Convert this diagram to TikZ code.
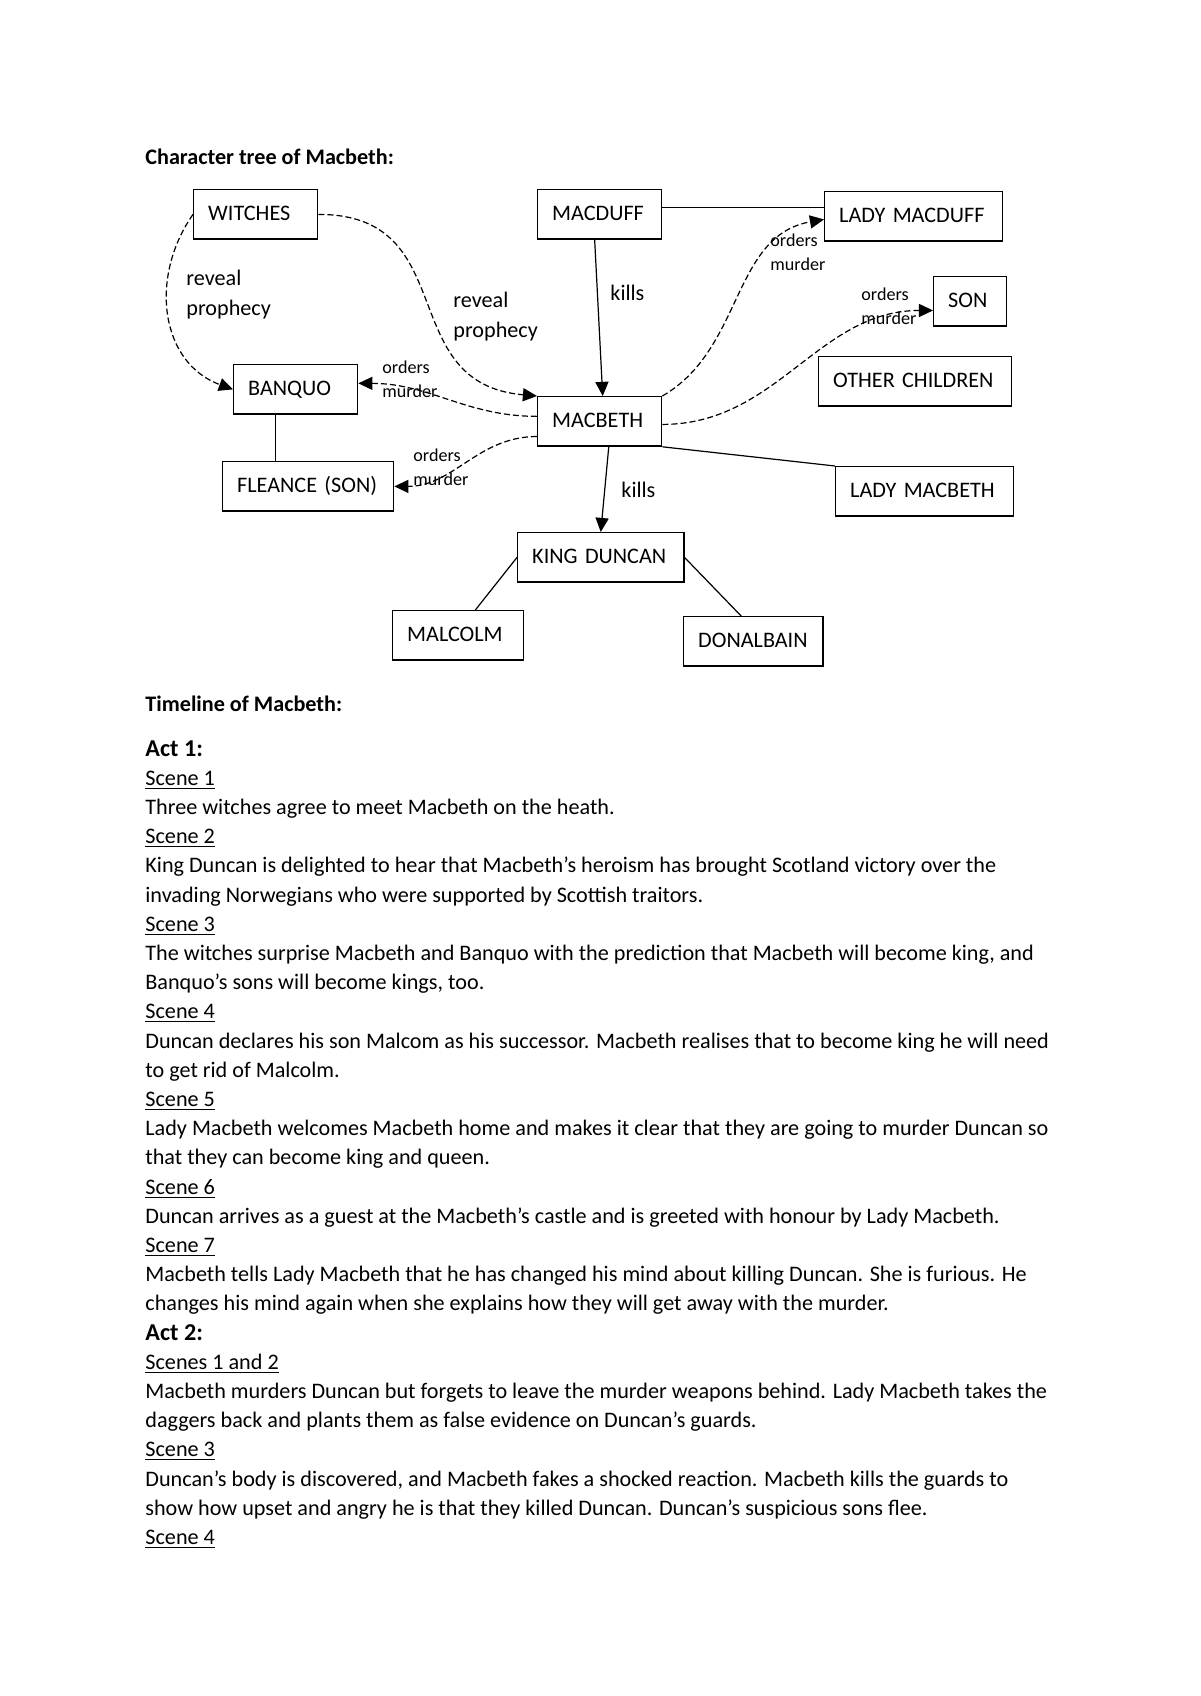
\documentclass[tikz,border=0pt,11pt]{standalone}
\usepackage{fontspec}
\setmainfont{Carlito}
\usetikzlibrary{arrows.meta}

\newcommand{\scn}[1]{\underline{#1}}
\newcommand{\actl}[1]{{\fontsize{12}{14}\selectfont\bfseries #1}}

\begin{document}
\begin{tikzpicture}[x=0.4961pt,y=-0.4961pt,
  chr/.style={draw,line width=0.7pt,anchor=north west,inner xsep=7.2pt,inner ysep=0pt,
    minimum height=24.5pt,text width=#1,text height=9pt,text depth=3pt,align=left,
    font=\fontsize{11}{13}\selectfont},
  tie/.style={line width=0.6pt},
  slay/.style={line width=0.6pt,-{Triangle[length=7pt,width=6.5pt]}},
  scheme/.style={line width=0.6pt,dash pattern=on 3pt off 1.5pt,-{Triangle[length=7pt,width=6.5pt]}},
  lbl/.style={anchor=west,inner sep=0pt,align=left,font=\fontsize{11}{14.8}\selectfont},
  ordlbl/.style={anchor=west,inner sep=0pt,align=left,font=\fontsize{9}{12}\selectfont},
  txt/.style={anchor=base west,inner sep=0pt,font=\fontsize{11}{13}\selectfont}]
\path[fill=white] (0,0) rectangle (1200,1696);

\node[txt,font=\fontsize{11}{13}\selectfont\bfseries] (title) at (145,165) {Character tree of Macbeth:};

% characters
\node[chr=47.1pt] (witches) at (193,189) {WITCHES};
\node[chr=47.1pt] (macduff) at (537,189) {MACDUFF};
\node[chr=73.9pt] (ladymacduff) at (824,191) {LADY MACDUFF};
\node[chr=21.8pt] (son) at (933,276) {SON};
\node[chr=81.3pt] (otherchildren) at (818,356) {OTHER CHILDREN};
\node[chr=47.1pt] (banquo) at (233,364) {BANQUO};
\node[chr=47.1pt] (macbeth) at (537,396) {MACBETH};
\node[chr=70.4pt] (fleance) at (222,461) {FLEANCE (SON)};
\node[chr=73.9pt] (ladymacbeth) at (835,466) {LADY MACBETH};
\node[chr=68pt] (kingduncan) at (517,532) {KING DUNCAN};
\node[chr=50.6pt] (malcolm) at (392,610) {MALCOLM};
\node[chr=54.6pt] (donalbain) at (683,616) {DONALBAIN};

% relations
\draw[scheme] (witches.west) to[out=235,in=160,looseness=1.1] (banquo.west);
\draw[scheme] (witches.east) to[out=0,in=175,looseness=1.3] (macbeth.north west);
\draw[tie] ([yshift=3.5pt]macduff.east) -- ([yshift=3.5pt]macduff.east -| ladymacduff.west);
\draw[slay] ([xshift=-2.5pt]macduff.south) -- ([xshift=1.5pt]macbeth.north);
\draw[slay] ([xshift=4.5pt]macbeth.south) -- (kingduncan.north);
\draw[scheme] ([yshift=2.5pt]macbeth.west) to[out=180,in=0] ([yshift=3pt]banquo.east);
\draw[scheme] ([yshift=-7.5pt]macbeth.west) to[out=180,in=0] (fleance.east);
\draw[scheme] (macbeth.north east) to[out=30,in=190] ([yshift=-1.5pt]ladymacduff.west);
\draw[scheme] ([yshift=-1.5pt]macbeth.east) to[out=0,in=180] ([yshift=-4.5pt]son.west);
\draw[tie] (macbeth.south east) -- (ladymacbeth.north west);
\draw[tie] ([xshift=-10pt]banquo.south) -- ([xshift=-10pt]banquo.south |- fleance.north);
\draw[tie] (kingduncan.west) -- ([xshift=8.5pt]malcolm.north);
\draw[tie] (kingduncan.east) -- ([xshift=-6pt]donalbain.north);

\node[lbl] (rev1) at (186,295) {reveal\\prophecy};
\node[lbl] (rev2) at (453,317) {reveal\\prophecy};
\node[lbl] (kil1) at (610,293) {kills};
\node[lbl] (kil2) at (621,490) {kills};
\node[ordlbl] (ord1) at (382,379) {orders\\murder};
\node[ordlbl] (ord2) at (413,467) {orders\\murder};
\node[ordlbl] (ord3) at (770,252) {orders\\murder};
\node[ordlbl] (ord4) at (861,306) {orders\\murder};

% timeline
\node[txt,font=\fontsize{11}{13}\selectfont\bfseries] (tlhead) at (145,711) {Timeline of Macbeth:};
\foreach \t [count=\i from 0] in {
  {\actl{Act 1:}},
  {\scn{Scene 1}},
  {Three witches agree to meet Macbeth on the heath.},
  {\scn{Scene 2}},
  {King Duncan is delighted to hear that Macbeth’s heroism has brought Scotland victory over the},
  {invading Norwegians who were supported by Scottish traitors.},
  {\scn{Scene 3}},
  {The witches surprise Macbeth and Banquo with the prediction that Macbeth will become king, and},
  {Banquo’s sons will become kings, too.},
  {\scn{Scene 4}},
  {Duncan declares his son Malcom as his successor. Macbeth realises that to become king he will need},
  {to get rid of Malcolm.},
  {\scn{Scene 5}},
  {Lady Macbeth welcomes Macbeth home and makes it clear that they are going to murder Duncan so},
  {that they can become king and queen.},
  {\scn{Scene 6}},
  {Duncan arrives as a guest at the Macbeth’s castle and is greeted with honour by Lady Macbeth.},
  {\scn{Scene 7}},
  {Macbeth tells Lady Macbeth that he has changed his mind about killing Duncan. She is furious. He},
  {changes his mind again when she explains how they will get away with the murder.},
  {\actl{Act 2:}},
  {\scn{Scenes 1 and 2}},
  {Macbeth murders Duncan but forgets to leave the murder weapons behind. Lady Macbeth takes the},
  {daggers back and plants them as false evidence on Duncan’s guards.},
  {\scn{Scene 3}},
  {Duncan’s body is discovered, and Macbeth fakes a shocked reaction. Macbeth kills the guards to},
  {show how upset and angry he is that they killed Duncan. Duncan’s suspicious sons flee.},
  {\scn{Scene 4}}}
  \node[txt] (tl\i) at (145,756+29.2*\i) {\t};
\end{tikzpicture}
\end{document}
